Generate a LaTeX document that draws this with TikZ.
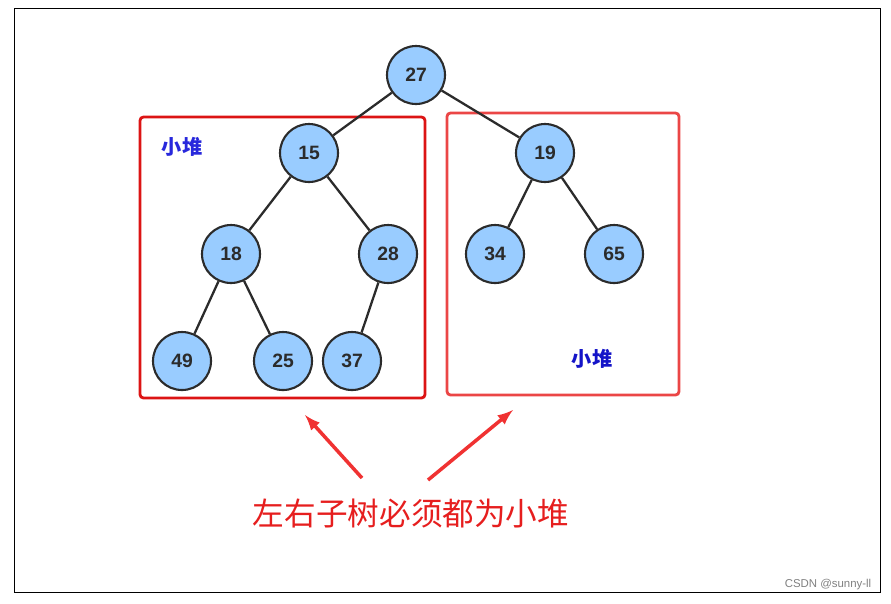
\documentclass[tikz,border=0pt]{standalone}
\usepackage{fontspec}
\setmainfont{Liberation Sans}
\newfontfamily\cjk{Noto Sans CJK SC}
\definecolor{nodeblue}{HTML}{99CCFF}
\definecolor{darkline}{HTML}{2B2B2B}
\begin{document}
\begin{tikzpicture}[x=0.02cm,y=-0.02cm,
    heapnode/.style={circle,draw=darkline,line width=1.2pt,fill=nodeblue,minimum size=1.16cm,inner sep=0pt,font=\bfseries\fontsize{11}{11}\selectfont,text=darkline},
    edge/.style={draw=darkline,line width=1.3pt},
    heapbox/.style={rounded corners=2pt,line width=1.6pt},
    tag/.style={font=\cjk\bfseries\fontsize{11.5}{12}\selectfont}]
  \useasboundingbox (0,0) rectangle (891,603);
  \draw[line width=0.5pt] (14,8) rectangle (880,592);
  % boxes
  \draw[heapbox,draw={rgb,255:red,220;green,20;blue,20}] (140,117) rectangle (425,398);
  \draw[heapbox,draw={rgb,255:red,235;green,70;blue,70}] (447,113) rectangle (679,395);
  % nodes
  \node[heapnode] (n27) at (416,75) {27};
  \node[heapnode] (n15) at (309,153) {15};
  \node[heapnode] (n19) at (545,153) {19};
  \node[heapnode] (n18) at (231,254) {18};
  \node[heapnode] (n28) at (388,254) {28};
  \node[heapnode] (n34) at (495,254) {34};
  \node[heapnode] (n65) at (614,254) {65};
  \node[heapnode] (n49) at (182,361) {49};
  \node[heapnode] (n25) at (283,361) {25};
  \node[heapnode] (n37) at (352,361) {37};
  \foreach \a/\b in {n27/n15,n27/n19,n15/n18,n15/n28,n19/n34,n19/n65,n18/n49,n18/n25,n28/n37}
    \draw[edge] (\a) -- (\b);
  % labels
  \node[tag,text={rgb,255:red,40;green,40;blue,220}] (lefttag) at (182,147) {小堆};
  \node[tag,text={rgb,255:red,20;green,20;blue,200}] (righttag) at (592,359) {小堆};
  \node[font=\cjk\fontsize{18}{18}\selectfont,text={rgb,255:red,230;green,30;blue,30}] (note) at (411,513) {左右子树必须都为小堆};
  \coordinate (lefttip) at (305,415);
  \coordinate (righttip) at (513,410);
  \draw[-latex,line width=2pt,draw={rgb,255:red,240;green,50;blue,50}] (362,478) -- (lefttip);
  \draw[-latex,line width=2pt,draw={rgb,255:red,240;green,50;blue,50}] (428,480) -- (righttip);
  \node[font=\fontsize{6.5}{7}\selectfont,text=gray] (mark) at (828,585) {CSDN @sunny-ll};
\end{tikzpicture}
\end{document}
